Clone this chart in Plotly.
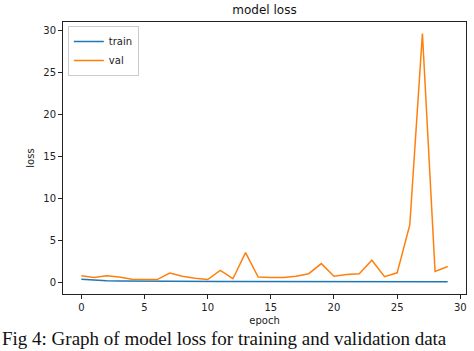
import plotly.graph_objects as go

epochs = list(range(30))
train_loss = [0.35, 0.22, 0.17, 0.14, 0.12, 0.10, 0.09, 0.08, 0.08, 0.07,
              0.07, 0.06, 0.06, 0.06, 0.06, 0.05, 0.05, 0.05, 0.05, 0.05,
              0.05, 0.05, 0.05, 0.05, 0.05, 0.05, 0.05, 0.05, 0.05, 0.05]
val_loss = [0.75, 0.55, 0.75, 0.6, 0.35, 0.3, 0.3, 1.07, 0.7, 0.45,
            0.3, 1.38, 0.4, 3.5, 0.6, 0.55, 0.55, 0.7, 1.0, 2.2,
            0.7, 0.9, 1.0, 2.6, 0.65, 1.1, 6.8, 29.6, 1.27, 1.86]
x_ticks = [0, 5, 10, 15, 20, 25, 30]
y_ticks = [0, 5, 10, 15, 20, 25, 30]

W, H = 474, 351
L, R, T, B = 63, 466, 22, 294
pw, ph = R - L, B - T

font = "DejaVu Sans"
fig = go.Figure()
fig.add_trace(go.Scatter(x=epochs, y=train_loss, mode="lines", name="train",
                         line=dict(color="#1f77b4", width=1.5)))
fig.add_trace(go.Scatter(x=epochs, y=val_loss, mode="lines", name="val",
                         line=dict(color="#ff7f0e", width=1.5)))

axis_common = dict(showgrid=False, zeroline=False, showline=True, mirror=True,
                   linecolor="#222", linewidth=1, ticks="outside", ticklen=4,
                   tickcolor="#222", tickfont=dict(family=font, size=10, color="#222"))
fig.update_xaxes(range=[-1.45, 30.45], tickvals=x_ticks,
                 title=dict(text="epoch", font=dict(family=font, size=10, color="#222"), standoff=4),
                 **axis_common)
fig.update_yaxes(range=[-1.42, 30.97], tickvals=y_ticks,
                 title=dict(text="loss", font=dict(family=font, size=10, color="#222"), standoff=6),
                 **axis_common)

fig.update_layout(
    width=W, height=H,
    margin=dict(l=L, r=W - R, t=T, b=H - B, pad=0),
    paper_bgcolor="white", plot_bgcolor="white",
    title=dict(text="model loss", x=(L + R) / 2 / W, xanchor="center",
               y=1 - 10 / H, yanchor="middle",
               font=dict(family=font, size=12, color="#111")),
    legend=dict(x=0.012, y=0.985, xanchor="left", yanchor="top",
                bgcolor="rgba(255,255,255,0.8)", bordercolor="#ccc", borderwidth=1,
                font=dict(family=font, size=10, color="#222"),
                tracegroupgap=0, itemwidth=30),
    showlegend=True,
)

fig.add_annotation(text="Fig 4: Graph of model loss for training and validation data",
                   xref="paper", yref="paper",
                   x=(1 - L) / pw, y=(B - 350) / ph, xanchor="left", yanchor="bottom",
                   showarrow=False, borderpad=0,
                   font=dict(family="Liberation Serif", size=19, color="#111"))

fig.write_html("out.html")
